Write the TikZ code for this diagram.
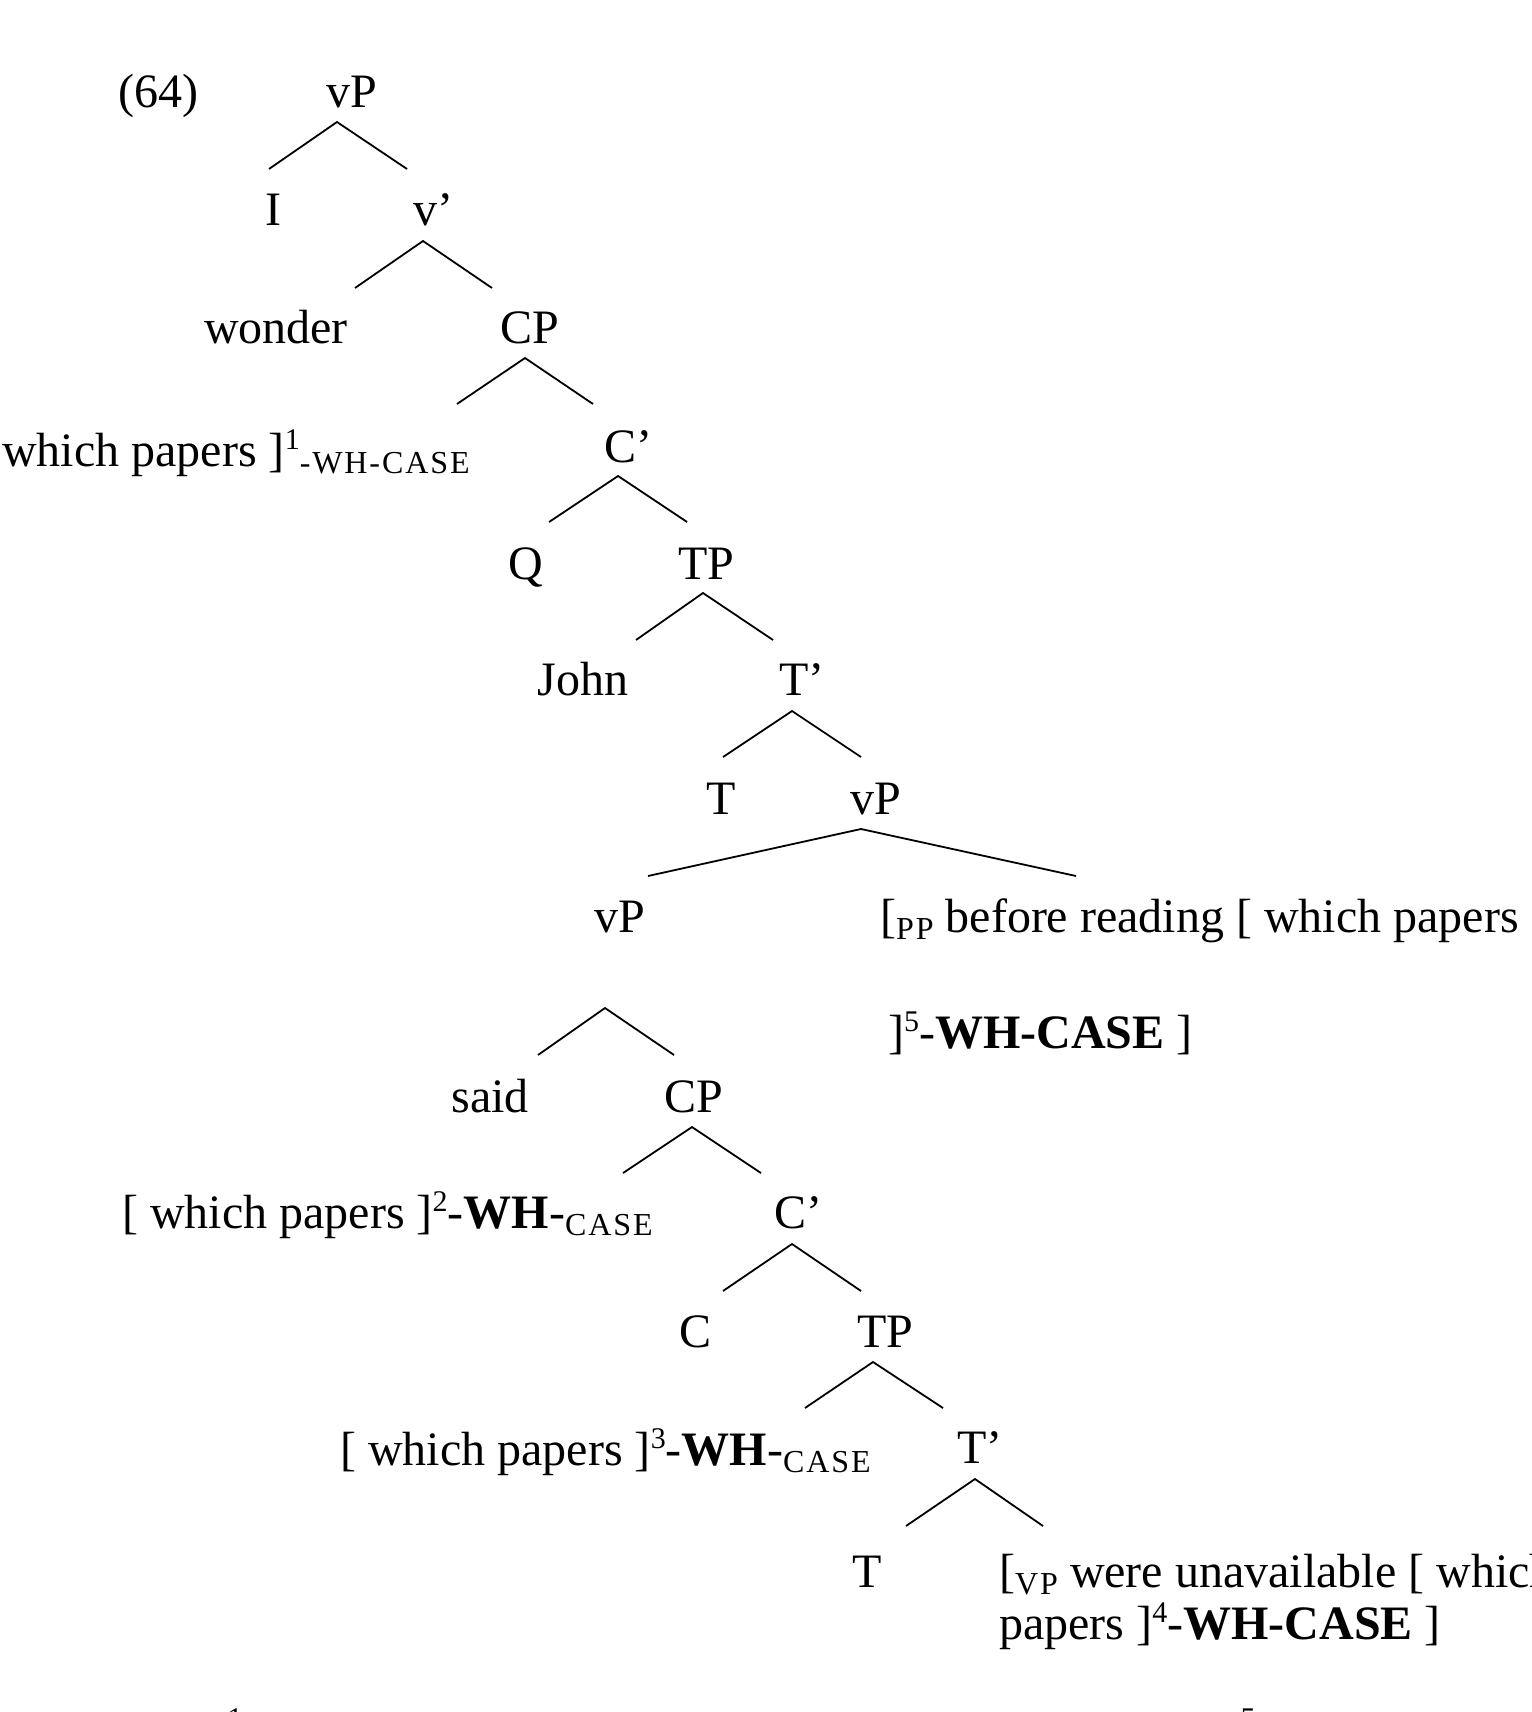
\documentclass[tikz,border=0pt]{standalone}
\usepackage{fontspec}
\setmainfont{Liberation Serif}
\newcommand\supn[1]{\raisebox{17pt}{\fontsize{30}{30}\selectfont #1}}
\newcommand\smc[1]{\raisebox{-7pt}{\fontsize{32}{32}\selectfont\addfontfeature{LetterSpace=6}#1}}
\begin{document}
\begin{tikzpicture}[x=1pt,y=-1pt,
  lab/.style={font=\fontsize{48}{55}\selectfont, inner sep=0pt, anchor=base},
  labl/.style={lab, anchor=base west},
  supnode/.style={font=\fontsize{30}{30}\selectfont, inner sep=0pt, anchor=base},
  br/.style={line width=1.8pt, line join=miter}]
\fill[white] (0,0) rectangle (1531,1712);
\useasboundingbox (0,0) rectangle (1531,1712);

% labels
\node[lab] (ex) at (158,108) {(64)};
\node[lab] (vP0) at (352,108) {vP};
\node[lab] (I) at (273,226) {I};
\node[lab] (vbar) at (433,226) {v’};
\node[lab] (wonder) at (276,343) {wonder};
\node[lab] (CP1) at (530,343) {CP};
\node[labl] (wp1) at (2,466) {which papers ]\supn{1}\smc{-WH-CASE}};
\node[lab] (Cbar1) at (628,462) {C’};
\node[lab] (Q) at (526,579) {Q};
\node[lab] (TP1) at (706,579) {TP};
\node[lab] (John) at (583,695) {John};
\node[lab] (Tbar1) at (802,695) {T’};
\node[lab] (T1) at (721,814) {T};
\node[lab] (vP1) at (876,814) {vP};
\node[lab] (vP2) at (620,932) {vP};
\node[labl] (PP) at (880,932) {\vtop{\baselineskip=116pt
  \hbox{[\smc{PP} before reading [ which papers}
  \hbox{\hspace{8pt}]\supn{5}-\textbf{WH-CASE} ]}}};
\node[lab] (said) at (490,1112) {said};
\node[lab] (CP2) at (694,1112) {CP};
\node[labl] (wp2) at (122,1228) {[ which papers ]\supn{2}-\textbf{WH}-\smc{CASE}};
\node[lab] (Cbar2) at (798,1228) {C’};
\node[lab] (C) at (695,1347) {C};
\node[lab] (TP2) at (885,1347) {TP};
\node[labl] (wp3) at (340,1465) {[ which papers ]\supn{3}-\textbf{WH}-\smc{CASE}};
\node[lab] (Tbar2) at (980,1463) {T’};
\node[lab] (T2) at (867,1587) {T};
\node[labl] (VP) at (999,1587) {\vtop{\baselineskip=52pt
  \hbox{[\smc{VP} were unavailable [ which}
  \hbox{papers ]\supn{4}-\textbf{WH-CASE} ]}}};
\node[supnode] (fn1) at (235,1728) {1};
\node[supnode] (fn5) at (1248,1728) {5};

% branch points
\coordinate (a0) at (337,122);  \coordinate (l0) at (269,169);  \coordinate (r0) at (407,169);
\coordinate (a1) at (423,241);  \coordinate (l1) at (355,288);  \coordinate (r1) at (492,288);
\coordinate (a2) at (525,358);  \coordinate (l2) at (457,404);  \coordinate (r2) at (593,404);
\coordinate (a3) at (618,476);  \coordinate (l3) at (549,522);  \coordinate (r3) at (687,522);
\coordinate (a4) at (703,593);  \coordinate (l4) at (636,640);  \coordinate (r4) at (773,640);
\coordinate (a5) at (792,711);  \coordinate (l5) at (723,757);  \coordinate (r5) at (861,757);
\coordinate (a6) at (861,829);  \coordinate (l6) at (648,876);  \coordinate (r6) at (1076,876);
\coordinate (a7) at (605,1008); \coordinate (l7) at (538,1055); \coordinate (r7) at (674,1055);
\coordinate (a8) at (692,1127); \coordinate (l8) at (623,1173); \coordinate (r8) at (761,1173);
\coordinate (a9) at (792,1244); \coordinate (l9) at (723,1291); \coordinate (r9) at (861,1291);
\coordinate (a10) at (873,1362); \coordinate (l10) at (805,1408); \coordinate (r10) at (943,1408);
\coordinate (a11) at (975,1479); \coordinate (l11) at (906,1526); \coordinate (r11) at (1043,1526);

\foreach \i in {0,...,11} {\draw[br] (l\i) -- (a\i) -- (r\i);}
\end{tikzpicture}
\end{document}
